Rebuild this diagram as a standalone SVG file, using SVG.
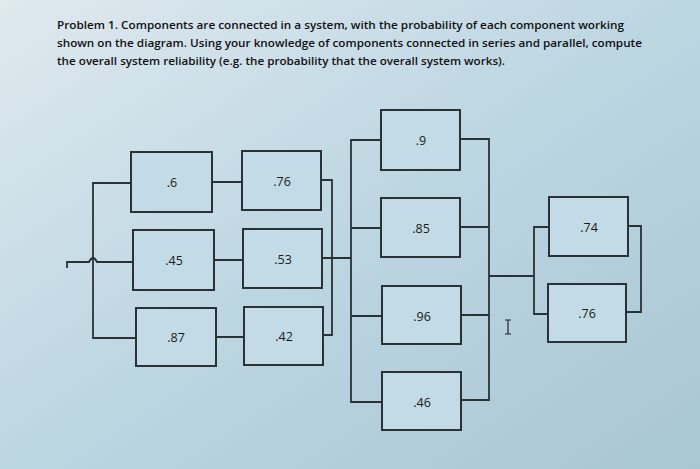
<svg xmlns="http://www.w3.org/2000/svg" width="700" height="469" viewBox="0 0 700 469">
<defs>
<linearGradient id="bg" x1="0" y1="0" x2="1" y2="1">
<stop offset="0" stop-color="#dfe9ee"/><stop offset="0.5" stop-color="#bcd6e2"/><stop offset="1" stop-color="#a9c6d3"/>
</linearGradient>
</defs>
<style>
.b{fill:#c3dbe6;stroke:#2a3236;stroke-width:2}
.w{fill:none;stroke:#2a3236;stroke-width:1.8}
.t{font-family:"Open Sans","Liberation Sans",sans-serif;font-size:12.5px;fill:#1a1a1a;text-anchor:middle}
.h{font-family:"Open Sans","Liberation Sans",sans-serif;font-size:11.3px;fill:#111;font-weight:600}
</style>
<rect width="700" height="469" fill="url(#bg)"/>
<g id="title">
<text class="h" x="57" y="29" textLength="567" lengthAdjust="spacingAndGlyphs">Problem 1. Components are connected in a system, with the probability of each component working</text>
<text class="h" x="57" y="47" textLength="585" lengthAdjust="spacingAndGlyphs">shown on the diagram. Using your knowledge of components connected in series and parallel, compute</text>
<text class="h" x="57" y="65" textLength="448" lengthAdjust="spacingAndGlyphs">the overall system reliability (e.g. the probability that the overall system works).</text>
</g>
<g id="connectors">
<path class="w" d="M67,268 V262 H89 Q93,254 97,262 H133"/>
<path class="w" d="M131,183 H93 V338 H136"/>
<path class="w" d="M212,182 H242 M214,260 H243 M216,337 H244"/>
<path class="w" d="M321,180 H332 V335 H323 M322,258 H351"/>
<path class="w" d="M381,140 H351 V402 H381 M351,228 H381 M351,316 H381"/>
<path class="w" d="M460,139 H489 V400 H460 M460,227 H489 M460,315 H489"/>
<path class="w" d="M489,276 H534 M549,227 H534 V314 H548"/>
<path class="w" d="M628,226 H641 V312 H626"/>
</g>
<g id="n6"><rect class="b" x="131" y="152" width="81" height="60"/><text class="t" x="172" y="187">.6</text></g>
<g id="n76a"><rect class="b" x="242" y="151" width="79" height="59"/><text class="t" x="282" y="186">.76</text></g>
<g id="n45"><rect class="b" x="133" y="230" width="81" height="60"/><text class="t" x="174" y="265">.45</text></g>
<g id="n53"><rect class="b" x="243" y="229" width="79" height="59"/><text class="t" x="283" y="264">.53</text></g>
<g id="n87"><rect class="b" x="136" y="308" width="80" height="58"/><text class="t" x="176" y="342">.87</text></g>
<g id="n42"><rect class="b" x="244" y="307" width="79" height="58"/><text class="t" x="284" y="341">.42</text></g>
<g id="n9"><rect class="b" x="381" y="110" width="79" height="60"/><text class="t" x="421" y="145">.9</text></g>
<g id="n85"><rect class="b" x="381" y="198" width="79" height="59"/><text class="t" x="421" y="233">.85</text></g>
<g id="n96"><rect class="b" x="382" y="286" width="79" height="58"/><text class="t" x="422" y="321">.96</text></g>
<g id="n46"><rect class="b" x="382" y="372" width="79" height="58"/><text class="t" x="422" y="407">.46</text></g>
<g id="n74"><rect class="b" x="549" y="197" width="79" height="59"/><text class="t" x="589" y="232">.74</text></g>
<g id="n76b"><rect class="b" x="548" y="284" width="78" height="58"/><text class="t" x="587" y="318">.76</text></g>
<path d="M505,320 H511 M508,320 V334 M505,334 H511" fill="none" stroke="#222" stroke-width="1.2"/>
</svg>
